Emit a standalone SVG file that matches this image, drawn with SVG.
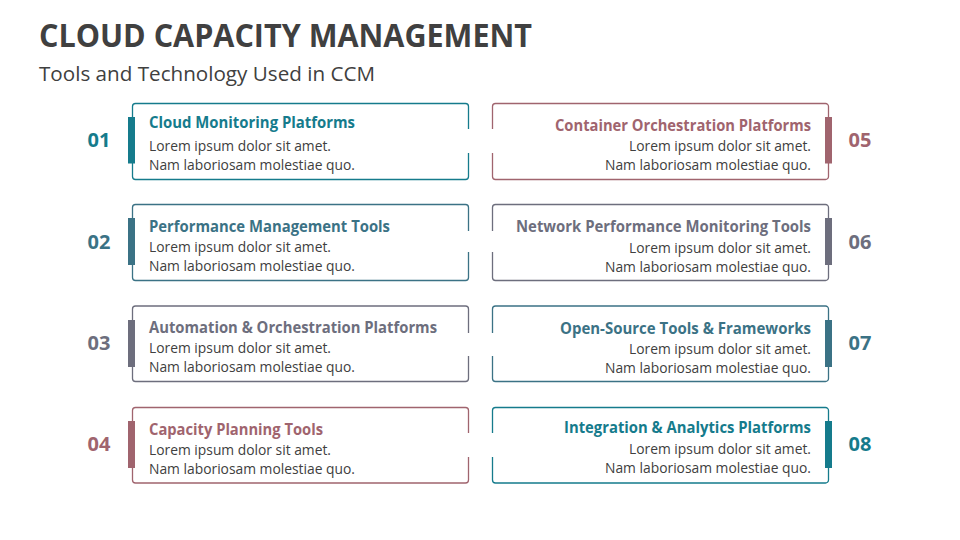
<svg xmlns="http://www.w3.org/2000/svg" width="960" height="540" viewBox="0 0 960 540">
<style>
.t{font-family:"Open Sans","Liberation Sans",sans-serif;}
.title{font-size:33px;font-weight:700;fill:#404040;}
.sub{font-size:20px;fill:#404040;}
.h{font-size:15.5px;font-weight:700;}
.b{font-size:14.5px;fill:#404040;}
.n{font-size:20px;font-weight:700;text-anchor:middle;}
.box{fill:none;stroke-width:1.3;}
.r{text-anchor:end;}
.c1{fill:#157b8c;}.s1{stroke:#157b8c;}
.c2{fill:#3b7285;}.s2{stroke:#3b7285;}
.c3{fill:#6d6e7d;}.s3{stroke:#6d6e7d;}
.c4{fill:#a0646e;}.s4{stroke:#a0646e;}
</style>
<rect width="960" height="540" fill="#ffffff"/>
<g id="header">
<text class="t title" x="39" y="47" textLength="493" lengthAdjust="spacingAndGlyphs">CLOUD CAPACITY MANAGEMENT</text>
<text class="t sub" x="39" y="81" textLength="336" lengthAdjust="spacingAndGlyphs">Tools and Technology Used in CCM</text>
</g>
<g id="connectors"></g>

<g id="node-01">
<path class="box s1" d="M468.5,129 V106.5 A3,3 0 0 0 465.5,103.5 H135.5 A3,3 0 0 0 132.5,106.5 V176.5 A3,3 0 0 0 135.5,179.5 H465.5 A3,3 0 0 0 468.5,176.5 V153"/>
<rect class="c1" x="128" y="117" width="7" height="46.5"/>
<text class="t n c1" x="99" y="147">01</text>
<text class="t h c1" x="149" y="128" textLength="206" lengthAdjust="spacingAndGlyphs">Cloud Monitoring Platforms</text>
<text class="t b" x="149" y="151" textLength="182" lengthAdjust="spacingAndGlyphs">Lorem ipsum dolor sit amet.</text>
<text class="t b" x="149" y="170" textLength="206" lengthAdjust="spacingAndGlyphs">Nam laboriosam molestiae quo.</text>
</g>

<g id="node-02">
<path class="box s2" d="M468.5,231 V207.5 A3,3 0 0 0 465.5,204.5 H135.5 A3,3 0 0 0 132.5,207.5 V277.5 A3,3 0 0 0 135.5,280.5 H465.5 A3,3 0 0 0 468.5,277.5 V252"/>
<rect class="c2" x="128" y="218" width="7" height="47"/>
<text class="t n c2" x="99" y="249">02</text>
<text class="t h c2" x="149" y="232" textLength="241" lengthAdjust="spacingAndGlyphs">Performance Management Tools</text>
<text class="t b" x="149" y="252" textLength="182" lengthAdjust="spacingAndGlyphs">Lorem ipsum dolor sit amet.</text>
<text class="t b" x="149" y="271" textLength="206" lengthAdjust="spacingAndGlyphs">Nam laboriosam molestiae quo.</text>
</g>

<g id="node-03">
<path class="box s3" d="M468.5,333 V309 A3,3 0 0 0 465.5,306 H135.5 A3,3 0 0 0 132.5,309 V378.5 A3,3 0 0 0 135.5,381.5 H465.5 A3,3 0 0 0 468.5,378.5 V356"/>
<rect class="c3" x="128" y="320" width="7" height="47"/>
<text class="t n c3" x="99" y="350">03</text>
<text class="t h c3" x="149" y="333" textLength="288" lengthAdjust="spacingAndGlyphs">Automation &amp; Orchestration Platforms</text>
<text class="t b" x="149" y="353" textLength="182" lengthAdjust="spacingAndGlyphs">Lorem ipsum dolor sit amet.</text>
<text class="t b" x="149" y="372" textLength="206" lengthAdjust="spacingAndGlyphs">Nam laboriosam molestiae quo.</text>
</g>

<g id="node-04">
<path class="box s4" d="M468.5,433 V410.5 A3,3 0 0 0 465.5,407.5 H135.5 A3,3 0 0 0 132.5,410.5 V480 A3,3 0 0 0 135.5,483 H465.5 A3,3 0 0 0 468.5,480 V457"/>
<rect class="c4" x="128" y="421" width="7" height="47"/>
<text class="t n c4" x="99" y="451">04</text>
<text class="t h c4" x="149" y="435" textLength="174" lengthAdjust="spacingAndGlyphs">Capacity Planning Tools</text>
<text class="t b" x="149" y="455" textLength="182" lengthAdjust="spacingAndGlyphs">Lorem ipsum dolor sit amet.</text>
<text class="t b" x="149" y="474" textLength="206" lengthAdjust="spacingAndGlyphs">Nam laboriosam molestiae quo.</text>
</g>

<g id="node-05">
<path class="box s4" d="M492.5,129 V106.5 A3,3 0 0 1 495.5,103.5 H825.5 A3,3 0 0 1 828.5,106.5 V176.5 A3,3 0 0 1 825.5,179.5 H495.5 A3,3 0 0 1 492.5,176.5 V153"/>
<rect class="c4" x="825" y="117" width="7" height="46.5"/>
<text class="t n c4" x="860" y="147">05</text>
<text class="t h c4 r" x="811" y="131" textLength="256" lengthAdjust="spacingAndGlyphs">Container Orchestration Platforms</text>
<text class="t b r" x="811" y="151" textLength="182" lengthAdjust="spacingAndGlyphs">Lorem ipsum dolor sit amet.</text>
<text class="t b r" x="811" y="170" textLength="206" lengthAdjust="spacingAndGlyphs">Nam laboriosam molestiae quo.</text>
</g>

<g id="node-06">
<path class="box s3" d="M492.5,231 V207.5 A3,3 0 0 1 495.5,204.5 H825.5 A3,3 0 0 1 828.5,207.5 V277.5 A3,3 0 0 1 825.5,280.5 H495.5 A3,3 0 0 1 492.5,277.5 V252"/>
<rect class="c3" x="825" y="218" width="7" height="47"/>
<text class="t n c3" x="860" y="249">06</text>
<text class="t h c3 r" x="811" y="232" textLength="295" lengthAdjust="spacingAndGlyphs">Network Performance Monitoring Tools</text>
<text class="t b r" x="811" y="253" textLength="182" lengthAdjust="spacingAndGlyphs">Lorem ipsum dolor sit amet.</text>
<text class="t b r" x="811" y="272" textLength="206" lengthAdjust="spacingAndGlyphs">Nam laboriosam molestiae quo.</text>
</g>

<g id="node-07">
<path class="box s2" d="M492.5,333 V309 A3,3 0 0 1 495.5,306 H825.5 A3,3 0 0 1 828.5,309 V378.5 A3,3 0 0 1 825.5,381.5 H495.5 A3,3 0 0 1 492.5,378.5 V356"/>
<rect class="c2" x="825" y="320" width="7" height="47"/>
<text class="t n c2" x="860" y="350">07</text>
<text class="t h c2 r" x="811" y="334" textLength="251" lengthAdjust="spacingAndGlyphs">Open-Source Tools &amp; Frameworks</text>
<text class="t b r" x="811" y="354" textLength="182" lengthAdjust="spacingAndGlyphs">Lorem ipsum dolor sit amet.</text>
<text class="t b r" x="811" y="373" textLength="206" lengthAdjust="spacingAndGlyphs">Nam laboriosam molestiae quo.</text>
</g>

<g id="node-08">
<path class="box s1" d="M492.5,433 V410.5 A3,3 0 0 1 495.5,407.5 H825.5 A3,3 0 0 1 828.5,410.5 V480 A3,3 0 0 1 825.5,483 H495.5 A3,3 0 0 1 492.5,480 V457"/>
<rect class="c1" x="825" y="421" width="7" height="47"/>
<text class="t n c1" x="860" y="451">08</text>
<text class="t h c1 r" x="811" y="433" textLength="247" lengthAdjust="spacingAndGlyphs">Integration &amp; Analytics Platforms</text>
<text class="t b r" x="811" y="454" textLength="182" lengthAdjust="spacingAndGlyphs">Lorem ipsum dolor sit amet.</text>
<text class="t b r" x="811" y="473" textLength="206" lengthAdjust="spacingAndGlyphs">Nam laboriosam molestiae quo.</text>
</g>
</svg>
